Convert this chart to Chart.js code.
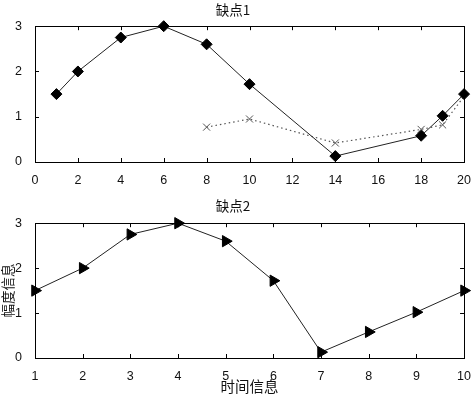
<!DOCTYPE html>
<html>
<head>
<meta charset="utf-8">
<script src="https://cdn.jsdelivr.net/npm/chart.js@4.4.0/dist/chart.umd.min.js"></script>
<style>
  html, body { margin: 0; padding: 0; background: #fff; }
  #wrap { position: relative; width: 474px; height: 395px; }
  .box { position: absolute; left: 0; width: 474px; }
</style>
</head>
<body>
<div id="wrap">
  <div class="box" style="top:0;height:186px"><canvas id="c1"></canvas></div>
  <div class="box" style="top:191px;height:204px"><canvas id="c2"></canvas></div>
</div>
<script>
// 缺点1
const x1 = [1, 2, 4, 6, 8, 10, 14, 18, 19, 20];
const y1 = [1.5, 2.0, 2.75, 3.0, 2.6, 1.72, 0.13, 0.58, 1.02, 1.5];
const xMiss = [8, 10, 14, 18, 19, 20];
const yMiss = [0.77, 0.95, 0.42, 0.72, 0.82, 1.45];
// 缺点2
const x2 = [1, 2, 3, 4, 5, 6, 7, 8, 9, 10];
const y2 = [1.5, 2.0, 2.75, 3.0, 2.6, 1.72, 0.13, 0.58, 1.02, 1.5];
const yTicks = [0, 1, 2, 3];

const tickFont = { family: "'Liberation Sans', Arial, sans-serif", size: 12.5 };
const cjk = "'Noto Sans CJK SC', sans-serif";

function pts(xs, ys) {
  return xs.map((x, i) => ({ x: x, y: ys[i] }));
}

// matlab-like box with inward ticks
const boxPlugin = {
  id: 'box',
  afterDatasetsDraw(chart) {
    const { ctx, chartArea: a, scales } = chart;
    ctx.save();
    ctx.strokeStyle = '#000';
    ctx.lineWidth = 1;
    ctx.strokeRect(Math.round(a.left) + 0.5, Math.round(a.top) + 0.5, Math.round(a.right - a.left), Math.round(a.bottom - a.top));
    ctx.beginPath();
    scales.x.ticks.forEach(t => {
      const px = Math.round(scales.x.getPixelForValue(t.value)) + 0.5;
      ctx.moveTo(px, a.bottom); ctx.lineTo(px, a.bottom - 4);
      ctx.moveTo(px, a.top); ctx.lineTo(px, a.top + 4);
    });
    scales.y.ticks.forEach(t => {
      const py = Math.round(scales.y.getPixelForValue(t.value)) + 0.5;
      ctx.moveTo(a.left, py); ctx.lineTo(a.left + 4, py);
      ctx.moveTo(a.right, py); ctx.lineTo(a.right - 4, py);
    });
    ctx.stroke();
    ctx.restore();
  }
};

function makeOpts(title, xMin, xMax, xStep, xHeight, xTitle, yTitle, titlePad) {
  return {
    responsive: true,
    maintainAspectRatio: false,
    animation: false,
    layout: { padding: { left: 0, right: 8, top: 0, bottom: 0 } },
    plugins: {
      legend: { display: false },
      tooltip: { enabled: false },
      title: {
        display: true, text: title, color: '#111',
        font: { family: cjk, size: 13.5, weight: 'normal' },
        padding: titlePad
      }
    },
    scales: {
      x: {
        type: 'linear', min: xMin, max: xMax,
        ticks: { stepSize: xStep, color: '#111', font: tickFont, padding: 3, maxRotation: 0, autoSkip: false },
        grid: { display: false },
        border: { display: false },
        title: { display: !!xTitle, text: xTitle, color: '#111', font: { family: cjk, size: 14.5 }, padding: 0 },
        afterFit(s) { s.height = xHeight; }
      },
      y: {
        min: 0, max: 3,
        afterBuildTicks(s) { s.ticks = yTicks.map(v => ({ value: v })); },
        ticks: { color: '#111', font: tickFont, padding: 5 },
        grid: { display: false },
        border: { display: false },
        title: { display: !!yTitle, text: yTitle, color: '#111', font: { family: cjk, size: 13.5 }, padding: 0 },
        afterFit(s) { s.width = 35; }
      }
    }
  };
}

new Chart(document.getElementById('c1'), {
  type: 'line',
  data: {
    datasets: [
      {
        data: pts(x1, y1),
        borderColor: '#222', borderWidth: 1,
        pointStyle: 'rectRot', pointRadius: 5.5,
        pointBackgroundColor: '#000', pointBorderColor: '#000',
        clip: false, tension: 0
      },
      {
        data: pts(xMiss, yMiss),
        borderColor: '#555', borderWidth: 1.2, borderDash: [1.5, 3],
        pointStyle: 'crossRot', pointRadius: [5, 5, 5, 5, 5, 0],
        pointBorderColor: '#555', pointBorderWidth: 1,
        clip: false, tension: 0
      }
    ]
  },
  options: makeOpts('缺点1', 0, 20, 2, 24, '', '', { top: 2, bottom: 8 }),
  plugins: [boxPlugin]
});

new Chart(document.getElementById('c2'), {
  type: 'line',
  data: {
    datasets: [
      {
        data: pts(x2, y2),
        borderColor: '#222', borderWidth: 1,
        pointStyle: 'triangle', rotation: 90, pointRadius: 6.5,
        pointBackgroundColor: '#000', pointBorderColor: '#000',
        clip: false, tension: 0
      }
    ]
  },
  options: makeOpts('缺点2', 1, 10, 1, 37, '时间信息', '幅度信息', { top: 7, bottom: 9 }),
  plugins: [boxPlugin]
});
</script>
</body>
</html>
